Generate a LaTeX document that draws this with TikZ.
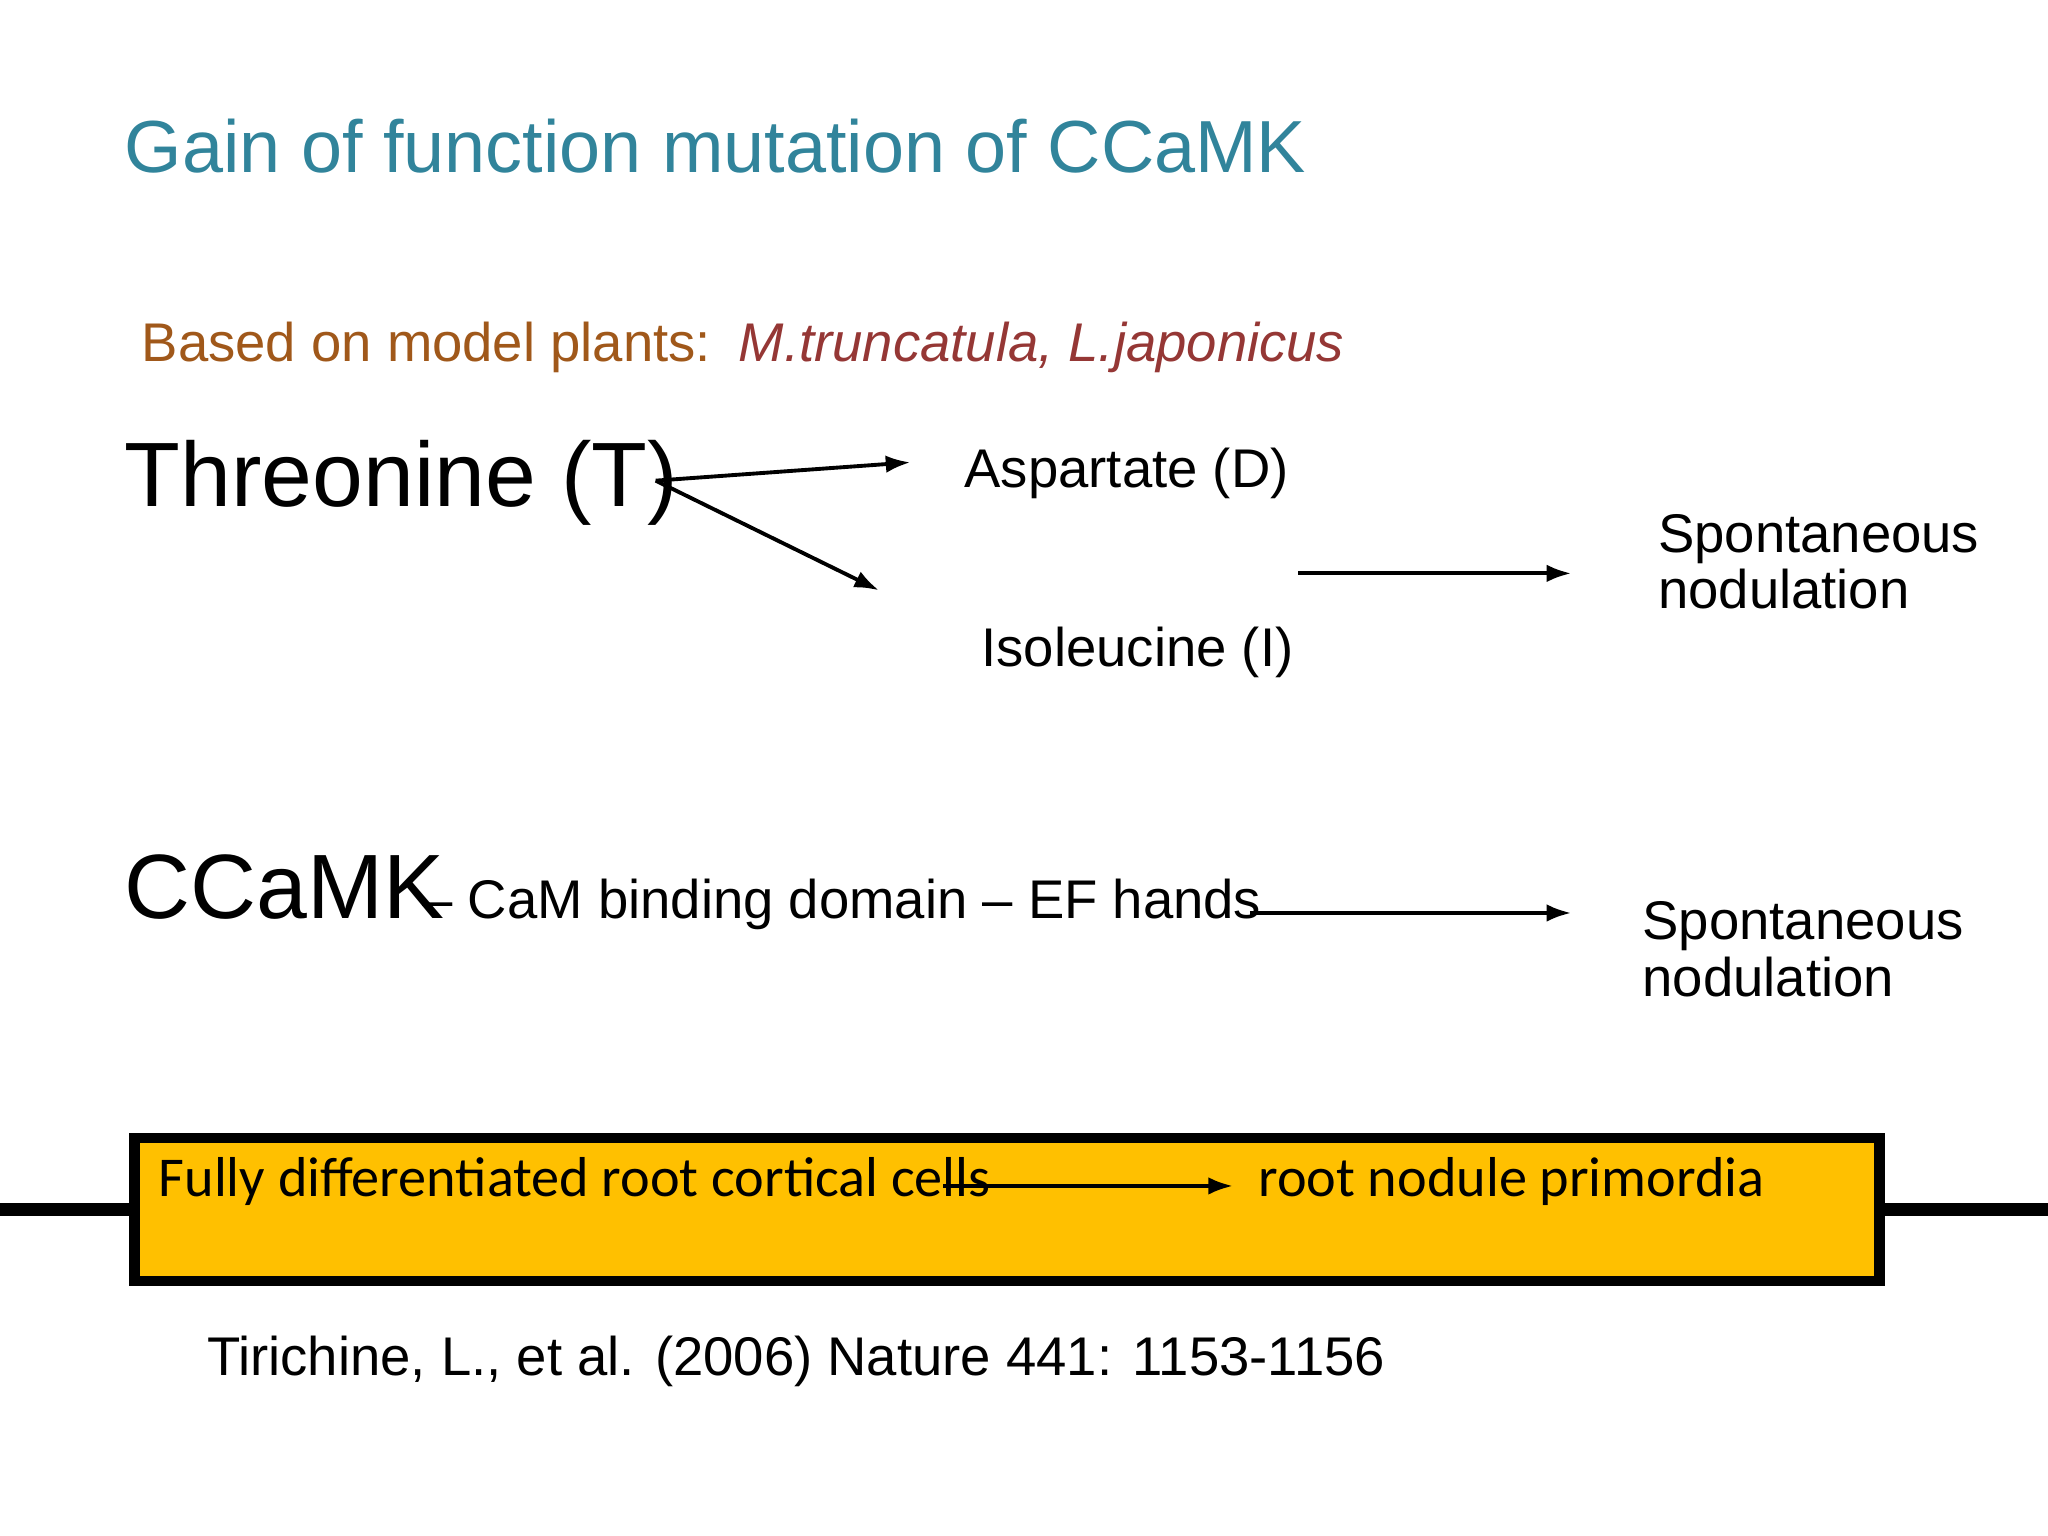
\documentclass[tikz,border=0pt]{standalone}
\usepackage{fontspec}
\setmainfont{Liberation Sans}
\newfontfamily\carl{Carlito}
\usetikzlibrary{arrows.meta}
\definecolor{titlec}{HTML}{31849B}
\definecolor{basec}{HTML}{A0581A}
\definecolor{italc}{HTML}{953735}
\definecolor{boxc}{HTML}{FFC000}
\begin{document}
\begin{tikzpicture}[x=0.01306cm,y=-0.01306cm,
  txt/.style={anchor=base west,inner sep=0pt,font=\fontsize{15.5}{18}\selectfont},
  big/.style={anchor=base west,inner sep=0pt,font=\fontsize{26}{30}\selectfont},
  arr/.style={-{Latex[length=7pt,width=5pt]},line width=1.1pt}]
\useasboundingbox (0,0) rectangle (1568,1176);
\node[anchor=base west,inner sep=0pt,font=\fontsize{21}{25}\selectfont,text=titlec] (title) at (95,132) {Gain of function mutation of CCaMK};
\node[txt,text=basec] (based) at (108,277) {Based on model plants:};
\node[txt,text=italc,font=\fontsize{15.5}{18}\selectfont\itshape] (species) at (565,277) {M.truncatula, L.japonicus};
\node[big] (thr) at (95,388) {Threonine (T)};
\node[txt] (asp) at (738,373) {Aspartate (D)};
\node[txt] (ile) at (751,510) {Isoleucine (I)};
\node[txt,align=left,anchor=north west] (sp1) at (1269,393) {Spontaneous\\[-2pt]nodulation};
\node[big] (ccamk) at (95,703) {CCaMK};
\node[txt] (cam) at (323,703) {-- CaM binding domain -- EF hands};
\node[txt,align=left,anchor=north west] (sp2) at (1257,690) {Spontaneous\\[-2pt]nodulation};
\node[draw,line width=2.9pt,fill=boxc,minimum width=1336\pgflinewidth,inner sep=0pt] (box) at (771,926) {};
\path (103,871) coordinate (bnw) (1439,981) coordinate (bse);
\fill[boxc] (bnw) rectangle (bse);
\draw[line width=2.9pt] (bnw) rectangle (bse);
\node[txt,font=\carl\fontsize{16}{19}\selectfont] (cells) at (121,916) {Fully differentiated root cortical cells};
\node[txt,font=\carl\fontsize{16}{19}\selectfont] (prim) at (963,916) {root nodule primordia};
\node[txt] (cite) at (158,1053) {Tirichine, L., et al. (2006) Nature 441: 1153-1156};
\coordinate (t0) at (502,368);
\coordinate (a1) at (697,354);
\coordinate (i1) at (673,452);
\coordinate (m0) at (994,439); \coordinate (m1) at (1203,439);
\coordinate (c0) at (957,699); \coordinate (c1) at (1203,699);
\coordinate (b0) at (722,908); \coordinate (b1) at (944,908);
\draw[arr] (t0) -- (a1);
\draw[arr] (t0) -- (i1);
\draw[arr] (m0) -- (m1);
\draw[arr] (c0) -- (c1);
\draw[arr] (b0) -- (b1);
\end{tikzpicture}
\end{document}
